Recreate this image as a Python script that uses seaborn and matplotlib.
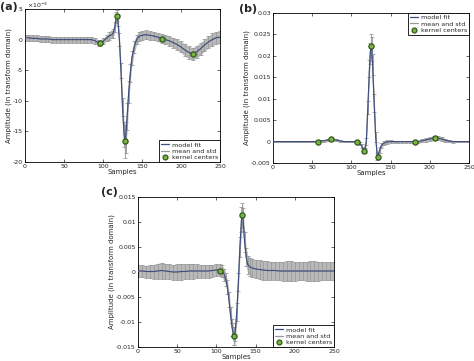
import numpy as np
import pandas as pd
import matplotlib
matplotlib.use("Agg")
import matplotlib.pyplot as plt
from matplotlib.ticker import FuncFormatter
from matplotlib.lines import Line2D
import seaborn as sns

sns.set_style("white")
plt.rcParams['font.family'] = ['DejaVu Sans']
plt.rcParams['axes.unicode_minus'] = False

# ---------------- data (amplitudes in units of 1e-3) ----------------
a_x = [0, 5, 10, 15, 20, 25, 30, 35, 40, 45, 50, 55, 60, 65, 70, 75, 80, 85, 90, 95,
       100, 105, 108, 111, 113, 115, 117, 118, 119, 121, 123, 125, 127, 128, 129, 131,
       133, 135, 137, 140, 143, 146, 150, 155, 160, 165, 170, 175, 180, 185, 190, 195,
       200, 205, 210, 215, 220, 225, 230, 235, 240, 245, 250]
a_mean = [0.3, 0.3, 0.2, 0.2, 0.1, 0.1, 0.1, 0.0, 0.0, 0.0, 0.0, 0.0, 0.0, 0.0, 0.0, 0.0,
          0.0, 0.0, -0.2, -0.6, -0.3, 0.3, 0.6, 0.8, 1.0, 2.0, 3.6, 3.9, 3.2, 0.0, -5.0,
          -11.0, -15.5, -16.6, -16.0, -12.5, -8.5, -5.5, -3.0, -1.2, 0.0, 0.5, 0.7, 0.8,
          0.7, 0.6, 0.4, 0.2, 0.0, -0.2, -0.5, -0.8, -1.2, -1.7, -2.1, -2.3, -2.0, -1.5,
          -0.9, -0.4, 0.0, 0.3, 0.4]
a_std = [0.5, 0.5, 0.5, 0.5, 0.5, 0.5, 0.5, 0.5, 0.5, 0.5, 0.5, 0.5, 0.5, 0.5, 0.5, 0.5,
         0.5, 0.5, 0.5, 0.5, 0.5, 0.5, 0.6, 0.6, 0.7, 0.8, 0.9, 0.9, 0.9, 1.0, 1.2,
         1.5, 2.0, 2.7, 2.6, 2.2, 1.8, 1.5, 1.2, 1.0, 0.8, 0.8, 0.7, 0.7,
         0.7, 0.7, 0.7, 0.7, 0.7, 0.8, 0.8, 0.9, 0.9, 1.0, 1.0, 1.0, 1.0, 1.0,
         1.0, 1.0, 1.0, 1.0, 1.0]
a_kx = [96, 118, 128, 176, 216]
a_ky = [-0.6, 3.9, -16.6, 0.1, -2.3]

b_x = [0, 5, 10, 15, 20, 25, 30, 35, 40, 45, 50, 55, 60, 65, 70, 75, 80, 85, 90, 95, 100,
       105, 108, 111, 113, 115, 116, 117, 119, 121, 123, 124, 125, 126, 127, 129, 131,
       133, 134, 136, 138, 141, 145, 150, 155, 160, 165, 170, 175, 180, 185, 190, 195,
       200, 205, 210, 215, 220, 225, 230, 235, 240, 245, 250]
b_mean = [0.0, 0.0, 0.0, 0.0, 0.0, 0.0, 0.0, 0.0, 0.0, 0.0, 0.0, 0.0, 0.1, 0.2, 0.4, 0.5,
          0.4, 0.2, 0.0, 0.0, 0.0, 0.0, -0.1, -0.5, -1.0, -1.8, -2.2, -2.0, 0.0, 8.0,
          17.0, 20.5, 22.3, 21.5, 18.0, 9.0, 1.0, -3.5, -3.3, -2.0, -1.0, -0.4, -0.1,
          0.0, 0.0, 0.0, 0.0, 0.0, 0.0, 0.0, 0.0, 0.2, 0.4, 0.6, 0.8, 0.8, 0.6, 0.3,
          0.1, 0.0, 0.0, 0.0, 0.0, 0.0]
b_std = [0.2, 0.2, 0.2, 0.2, 0.2, 0.2, 0.2, 0.2, 0.2, 0.2, 0.2, 0.2, 0.2, 0.25, 0.3, 0.3,
         0.3, 0.25, 0.2, 0.2, 0.2, 0.2, 0.2, 0.3, 0.4, 0.5, 0.5, 0.6, 0.8, 1.5,
         2.0, 2.5, 2.8, 2.8, 2.5, 2.0, 1.2, 0.8, 0.8, 0.7, 0.6, 0.5, 0.4,
         0.3, 0.25, 0.25, 0.25, 0.25, 0.25, 0.25, 0.25, 0.35, 0.4, 0.45, 0.5, 0.5, 0.45,
         0.4, 0.3, 0.25, 0.2, 0.2, 0.2, 0.2]
b_kx = [57, 74, 107, 116, 125, 134, 181, 207]
b_ky = [0.0, 0.5, 0.0, -2.2, 22.3, -3.5, 0.0, 0.9]

c_x = [0, 5, 10, 15, 20, 25, 30, 35, 40, 45, 50, 55, 60, 65, 70, 75, 80, 85, 90, 95, 100,
       104, 107, 110, 112, 114, 116, 118, 120, 122, 123, 124, 126, 128, 130, 132, 133,
       134, 136, 138, 140, 143, 146, 150, 155, 160, 165, 170, 175, 180, 185, 190, 195,
       200, 205, 210, 215, 220, 225, 230, 235, 240, 245, 250]
c_mean = [0.2, 0.2, 0.1, 0.1, 0.1, 0.2, 0.3, 0.2, 0.1, 0.0, 0.0, 0.1, 0.1, 0.2, 0.2, 0.2,
          0.2, 0.2, 0.2, 0.3, 0.4, 0.4, 0.2, -0.5, -1.5, -3.0, -5.5, -8.5, -11.0, -12.7,
          -12.8, -12.0, -8.0, -2.0, 5.0, 10.5, 11.4, 10.5, 6.0, 3.0, 1.5, 1.0, 0.8, 0.6,
          0.5, 0.4, 0.3, 0.3, 0.3, 0.2, 0.2, 0.2, 0.2, 0.2, 0.2, 0.2, 0.2, 0.2, 0.2,
          0.2, 0.2, 0.2, 0.2, 0.2]
c_std = [1.2, 1.2, 1.2, 1.3, 1.4, 1.5, 1.6, 1.5, 1.5, 1.5, 1.6, 1.6, 1.5, 1.5, 1.5, 1.4,
         1.3, 1.3, 1.3, 1.2, 1.2, 1.2, 1.2, 1.2, 1.3, 1.4, 1.5, 1.6, 1.7, 1.8,
         1.8, 1.8, 1.8, 1.8, 2.0, 2.5, 2.5, 2.3, 2.0, 1.8, 1.8, 1.8, 1.8, 1.8,
         1.9, 1.9, 1.9, 1.8, 1.8, 1.8, 1.9, 2.0, 2.0, 1.9, 1.8, 1.8, 1.9, 2.0, 2.0,
         1.9, 1.8, 1.8, 1.8, 1.8]
c_kx = [104, 122.5, 133]
c_ky = [0.3, -12.7, 11.4]

panels = [
    dict(name="(a)", x=a_x, mean=a_mean, std=a_std, kx=a_kx, ky=a_ky,
         ylim=(-20e-3, 5e-3), yticks=[-20e-3, -15e-3, -10e-3, -5e-3, 0, 5e-3],
         sci=True, legloc="lower right",
         rect=[25 / 474, 1 - 162 / 361, 195 / 474, 153 / 361], lab=(0.0, 0.995)),
    dict(name="(b)", x=b_x, mean=b_mean, std=b_std, kx=b_kx, ky=b_ky,
         ylim=(-0.005, 0.03), yticks=[-0.005, 0, 0.005, 0.01, 0.015, 0.02, 0.025, 0.03],
         sci=False, legloc="upper right",
         rect=[273 / 474, 1 - 163 / 361, 196 / 474, 150 / 361], lab=(239 / 474, 0.99)),
    dict(name="(c)", x=c_x, mean=c_mean, std=c_std, kx=c_kx, ky=c_ky,
         ylim=(-0.015, 0.015), yticks=[-0.015, -0.01, -0.005, 0, 0.005, 0.01, 0.015],
         sci=False, legloc="lower right",
         rect=[138 / 474, 1 - 347 / 361, 196 / 474, 150 / 361], lab=(101 / 474, 1 - 187 / 361)),
]

fit_color = "#3d4d80"
std_color = "#9a9a9a"
kc_face = "#7cb342"
kc_edge = "#2f5a1a"

fig = plt.figure(figsize=(4.74, 3.61), dpi=100)

for p in panels:
    ax = fig.add_axes(p["rect"])
    df = pd.DataFrame({"Samples": p["x"],
                       "mean": np.array(p["mean"]) * 1e-3,
                       "std": np.array(p["std"]) * 1e-3})
    kdf = pd.DataFrame({"Samples": p["kx"], "amp": np.array(p["ky"]) * 1e-3})

    ax.fill_between(df["Samples"], df["mean"] - df["std"], df["mean"] + df["std"],
                    color="#b9b9b9", lw=0, zorder=1)
    ax.errorbar(df["Samples"], df["mean"], yerr=df["std"], fmt="none",
                ecolor=std_color, elinewidth=0.6, capsize=1.5, capthick=0.6, zorder=2)
    sns.lineplot(data=df, x="Samples", y="mean", ax=ax, color=std_color, lw=0.8,
                 estimator=None, zorder=3)
    sns.lineplot(data=df, x="Samples", y="mean", ax=ax, color=fit_color, lw=0.8,
                 estimator=None, zorder=4)
    sns.scatterplot(data=kdf, x="Samples", y="amp", ax=ax, s=14, color=kc_face,
                    edgecolor=kc_edge, linewidth=0.9, zorder=5)

    ax.set_xlim(0, 250)
    ax.set_ylim(*p["ylim"])
    ax.set_xticks([0, 50, 100, 150, 200, 250])
    ax.set_yticks(p["yticks"])
    if p["sci"]:
        ax.yaxis.set_major_formatter(FuncFormatter(lambda v, pos: "%g" % round(v * 1e3, 6)))
        x0 = p["rect"][0]
        fig.text(x0 + 2 / 474, 0.999, r"$\times10^{-3}$", fontsize=4.5, ha="left", va="top")
    else:
        ax.yaxis.set_major_formatter(FuncFormatter(lambda v, pos: "%g" % round(v, 6)))
    ax.tick_params(direction="in", length=2, width=0.5, labelsize=4.5, pad=1.5,
                   top=True, right=True, bottom=True, left=True)
    for s in ax.spines.values():
        s.set_linewidth(0.6)
        s.set_color("black")
    ax.set_xlabel("Samples", fontsize=5, labelpad=0)
    ax.set_ylabel("Amplitude (in transform domain)", fontsize=5, labelpad=0.5)

    handles = [Line2D([], [], color=fit_color, lw=0.9),
               Line2D([], [], color=std_color, lw=0.9),
               Line2D([], [], ls="none", marker="o", ms=3.5, mfc=kc_face, mec=kc_edge, mew=0.9)]
    leg = ax.legend(handles, ["model fit", "mean and std", "kernel centers"],
                    loc=p["legloc"], fontsize=4.6, frameon=True, fancybox=False,
                    borderpad=0.25, labelspacing=0.15, handlelength=1.4,
                    handletextpad=0.4, borderaxespad=0.0, framealpha=1)
    leg.get_frame().set_edgecolor("black")
    leg.get_frame().set_linewidth(0.6)

    fig.text(p["lab"][0], p["lab"][1], p["name"], fontsize=8, fontweight="bold",
             ha="left", va="top")

fig.savefig("out.png", dpi=100)
